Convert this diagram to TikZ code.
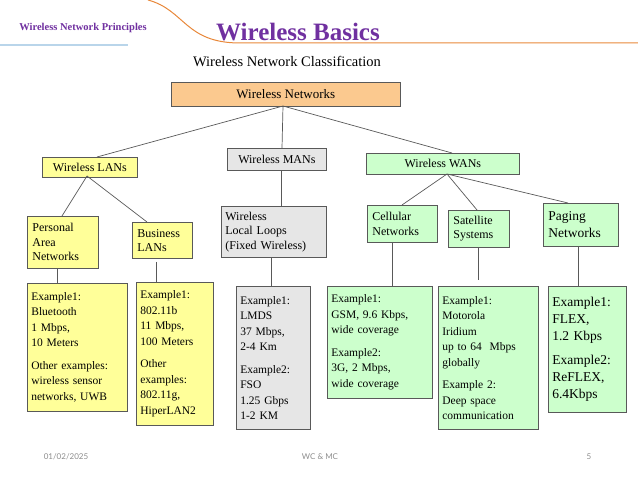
\documentclass[tikz,border=0pt]{standalone}
\usepackage{fontspec}
\setmainfont{Liberation Serif}
\newfontfamily\footfont{Lato}
\definecolor{ttl}{HTML}{7030A0}
\definecolor{orn}{HTML}{FBC98F}
\definecolor{yel}{HTML}{FFFF99}
\definecolor{gry}{HTML}{E6E6E6}
\definecolor{grn}{HTML}{CCFFCC}
\definecolor{curve}{HTML}{E8883A}
\definecolor{bl}{HTML}{B9D5EA}
\begin{document}
\begin{tikzpicture}[x=1pt,y=-1pt,
 box/.style={draw=black!65,line width=0.7pt,anchor=north west,inner sep=0pt,font=\fontsize{12}{14.5}\selectfont},
 ex/.style={box,align=left,font=\fontsize{11.5}{15.5}\selectfont},
 ln/.style={draw=black!65,line width=0.7pt}]
\useasboundingbox (0,0) rectangle (638,478);
% header
\draw[curve,line width=1pt] (148,0) .. controls (185,10) and (185,43) .. (240,43) -- (638,43);
\draw[bl,line width=1.5pt] (0,45) -- (128,45);
\node[text=ttl,font=\fontsize{10.5}{12}\selectfont\bfseries] (t1) at (83,28) {Wireless Network Principles};
\node[text=ttl,font=\fontsize{25}{28}\selectfont\bfseries] (t2) at (298,32) {Wireless Basics};
\node[font=\fontsize{14.5}{16}\selectfont] (t3) at (287,62) {Wireless Network Classification};
% level 0
\node[box,fill=orn,minimum width=229,minimum height=24,font=\fontsize{13}{15}\selectfont] (wn) at (171,82) {Wireless Networks};
% level 1
\node[box,fill=yel,minimum width=95,minimum height=20] (lan) at (42,157) {Wireless LANs};
\node[box,fill=gry,minimum width=99,minimum height=22] (man) at (227,148) {Wireless MANs};
\node[box,fill=grn,minimum width=153,minimum height=21] (wan) at (366,153) {Wireless WANs};
% level 2
\node[box,fill=yel,minimum width=71,minimum height=52,align=left,text width=61] (pan) at (27,216) {Personal\\Area\\Networks};
\node[box,fill=yel,minimum width=60,minimum height=36,align=left,text width=50] (bus) at (132,222) {Business\\LANs};
\node[box,fill=gry,minimum width=105,minimum height=51,align=left,text width=97] (wll) at (221,206) {Wireless\\Local Loops\\(Fixed Wireless)};
\node[box,fill=grn,minimum width=70,minimum height=37,align=left,text width=60] (cel) at (367,205) {Cellular\\Networks};
\node[box,fill=grn,minimum width=61,minimum height=37,align=left,text width=51] (sat) at (448,210) {Satellite\\Systems};
\node[box,fill=grn,minimum width=75,minimum height=43,align=left,text width=65,font=\fontsize{13.5}{17}\selectfont] (pag) at (543,203) {Paging\\Networks};
% level 3
\node[ex,fill=yel,minimum width=100,minimum height=128,text width=92] (pane) at (27,283) {Example1:\\Bluetooth\\1 Mbps,\\10 Meters\\[7pt]Other examples:\\wireless sensor\\networks, UWB};
\node[ex,fill=yel,minimum width=77,minimum height=143,text width=69] (buse) at (136,282) {Example1:\\802.11b\\11 Mbps,\\100 Meters\\[7pt]Other\\examples:\\802.11g,\\HiperLAN2};
\node[ex,fill=gry,minimum width=74,minimum height=143,text width=66] (wlle) at (236,286) {Example1:\\LMDS\\37 Mbps,\\2-4 Km\\[7pt]Example2:\\FSO\\1.25 Gbps\\1-2 KM};
\node[ex,fill=grn,minimum width=105,minimum height=112,text width=97] (cele) at (327,286) {Example1:\\GSM, 9.6 Kbps,\\wide coverage\\[7pt]Example2:\\3G, 2 Mbps,\\wide coverage};
\node[ex,fill=grn,minimum width=100,minimum height=143,text width=92] (sate) at (438,286) {Example1:\\Motorola\\Iridium\\up to 64~ Mbps\\globally\\[7pt]Example 2:\\Deep space\\communication};
\node[ex,fill=grn,minimum width=78,minimum height=126,text width=70,font=\fontsize{13.5}{17}\selectfont] (page) at (548,286) {Example1:\\FLEX,\\1.2 Kbps\\[7pt]Example2:\\ReFLEX,\\6.4Kbps};
% connectors
\coordinate (wnh) at (283,106);
\draw[ln] (wnh) -- (lan.north west -| 97,0);
\draw[ln] (wnh) -- (man.north -| 282,0);
\draw[ln] (wnh) -- (wan.north west -| 452,0);
\coordinate (lanh) at (87,176);
\draw[ln] (lanh) -- (pan.north west -| 62,0);
\draw[ln] (lanh) -- (bus.north west -| 147,0);
\draw[ln] (man.south -| 281,0) -- (wll.north west -| 281,0);
\coordinate (wanh) at (447,174);
\draw[ln] (wanh) -- (cel.north west -| 402,0);
\draw[ln] (wanh) -- (sat.north west -| 477,0);
\draw[ln] (wanh) -- (pag.north west -| 568,0);
\draw[ln] (pan.south west -| 57,0) -- (pane.north west -| 57,0);
\coordinate (busc) at (156,262);
\draw[ln] (busc) -- (buse.north west -| 156,0);
\draw[ln] (wll.south west -| 271,0) -- (wlle.north west -| 271,0);
\draw[ln] (cel.south west -| 392,0) -- (cele.north west -| 392,0);
\coordinate (satc) at (478,280);
\draw[ln] (sat.south west -| 478,0) -- (satc);
\draw[ln] (pag.south west -| 578,0) -- (page.north west -| 578,0);
% footer
\node[text=black!45,font=\footfont\fontsize{8}{9}\selectfont] (f1) at (66,457) {01/02/2025};
\node[text=black!45,font=\footfont\fontsize{8}{9}\selectfont] (f2) at (320,457) {WC \& MC};
\node[text=black!45,font=\footfont\fontsize{8}{9}\selectfont] (f3) at (589,457) {5};
\end{tikzpicture}
\end{document}
